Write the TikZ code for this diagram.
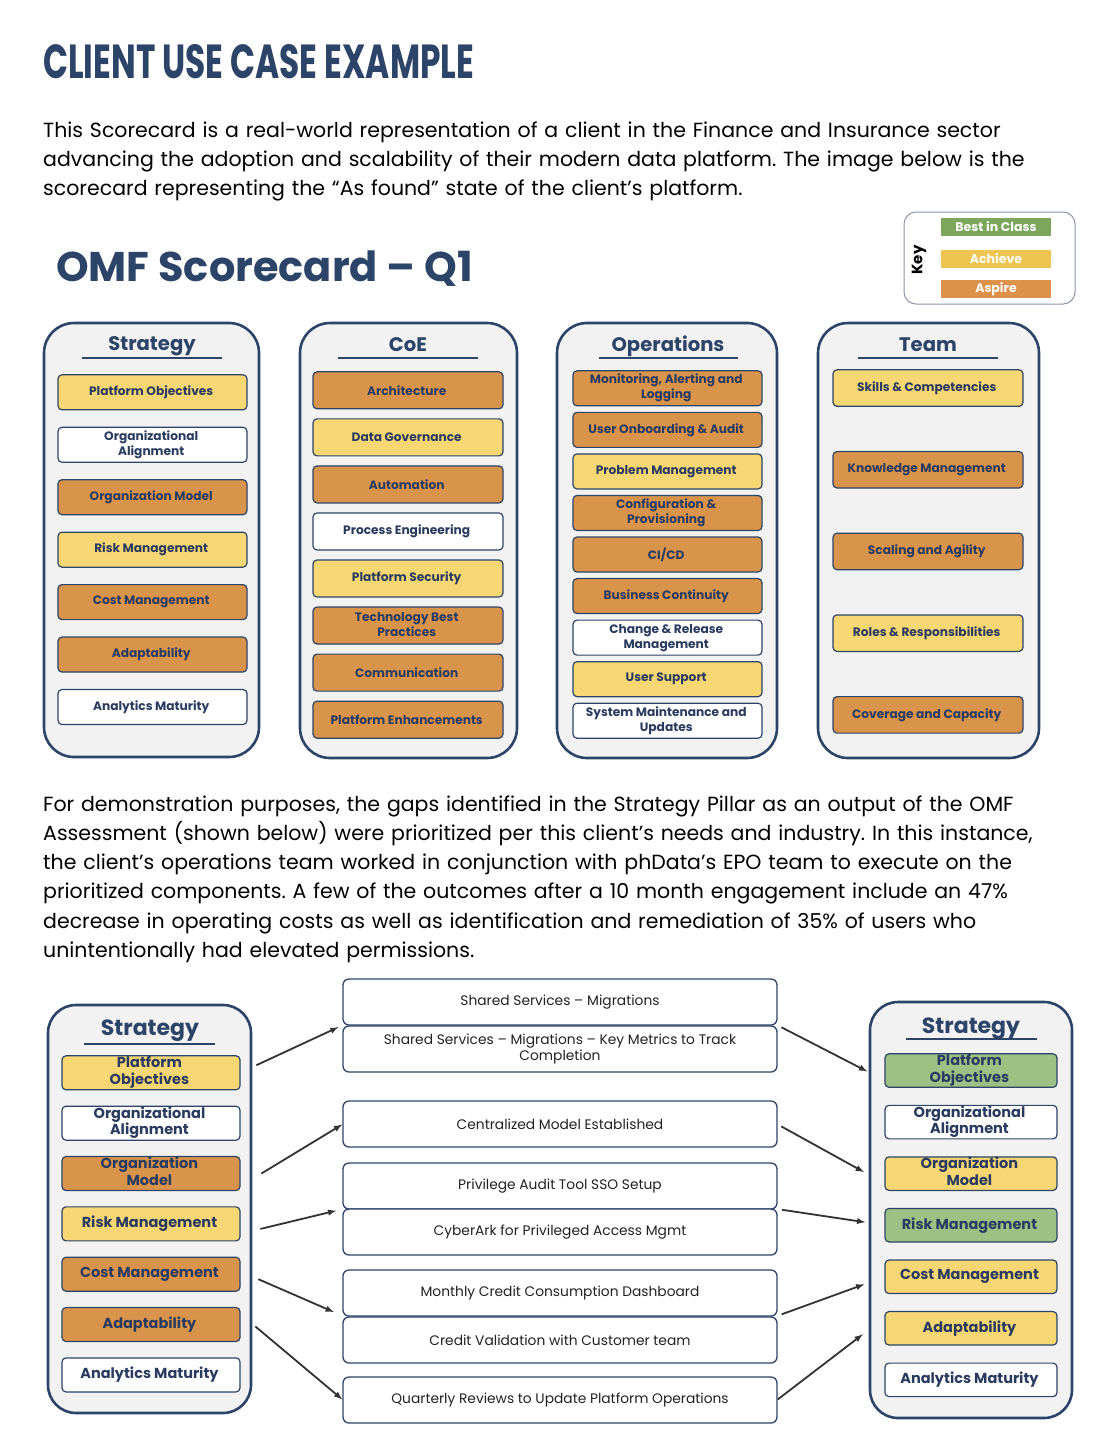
\documentclass[tikz,border=0pt]{standalone}
\usepackage{fontspec}
\setmainfont{Poppins}
\usepackage{graphicx}
\usepackage{tikz}
\usetikzlibrary{matrix,positioning,arrows}
\definecolor{navy}{HTML}{2C4468}
\definecolor{boxtext}{HTML}{2A3B60}
\definecolor{pillgray}{HTML}{F2F2F2}
\definecolor{ylwfill}{HTML}{F7D774}
\definecolor{orgfill}{HTML}{D9944C}
\definecolor{grnfill}{HTML}{9CC185}
\definecolor{keygrn}{HTML}{7BA65C}
\definecolor{keyylw}{HTML}{EDC550}
\definecolor{keyorg}{HTML}{DC924A}
\definecolor{keyline}{HTML}{8C95AB}
\definecolor{arrowgray}{HTML}{333333}
\definecolor{textdark}{HTML}{222222}
\newcommand{\twol}[2]{\begin{tabular}{@{}c@{}}#1\\#2\end{tabular}}
\frenchspacing
\tikzset{
pillar/.style={draw=navy, line width=2.6pt, fill=pillgray, rounded corners=30pt},
cell/.style={draw=navy, line width=1.2pt, rounded corners=4pt, fill=white,
  text=boxtext, align=center, inner sep=0pt, outer sep=0pt},
ylw/.style={fill=ylwfill},
org/.style={fill=orgfill},
grn/.style={fill=grnfill},
scoremat/.style={
  matrix of nodes,
  inner sep=0pt,
  anchor=north,
  nodes={cell, font=\fontsize{12.2}{15}\selectfont\bfseries}
  },
bigmat/.style={scoremat, nodes={font=\fontsize{14.5}{16.5}\selectfont\bfseries}},
pilltitle/.style={anchor=base, inner sep=0pt, text=navy, font=\fontsize{19.6}{24}\selectfont\bfseries},
bigtitle/.style={pilltitle, font=\fontsize{22}{26}\selectfont\bfseries},
outcome/.style={draw=navy, line width=1.3pt, rounded corners=6pt, fill=white,
  minimum width=434pt, minimum height=46pt, anchor=north, align=center,
  inner sep=0pt, outer sep=0pt, text=textdark, font=\fontsize{13.8}{16}\selectfont},
keybar/.style={minimum width=110pt, minimum height=18pt, inner sep=0pt,
  text=white, font=\fontsize{12.5}{13}\selectfont\bfseries},
para/.style={anchor=base west, inner sep=0pt, text width=1060pt, align=left,
  text=black, font=\fontsize{20.5}{29.3}\selectfont},
flow/.style={->, draw=arrowgray, line width=1.8pt}
}

\begin{document}
\begin{tikzpicture}[x=1pt, y=-1pt, >=latex]
\fill[white] (0,0) rectangle (1114,1444);
\useasboundingbox (0,0) rectangle (1114,1444);

% headings and text
\node[anchor=south west, inner sep=0pt, text=navy] (ctitle) at (43,79)
  {\resizebox{431pt}{34pt}{\bfseries CLIENT USE CASE EXAMPLE}};
\node[para] (intro) at (43,137)
  {This Scorecard is a real-world representation of a client in the Finance and Insurance sector\\
   advancing the adoption and scalability of their modern data platform. The image below is the\\
   scorecard representing the “As found” state of the client’s platform.};
\node[anchor=base west, inner sep=0pt, text=navy, font=\fontsize{41.5}{44}\selectfont\bfseries]
  (omf) at (56,281) {OMF Scorecard – Q1};

% key
\draw[keyline, line width=1pt, rounded corners=12pt] (904,212) rectangle (1075,304);
\node[rotate=90, inner sep=0pt, font=\fontsize{15}{16}\selectfont\bfseries] (keylbl) at (919,260) {Key};
\node[keybar, fill=keygrn] (kbest) at (996,227) {Best in Class};
\node[keybar, fill=keyylw] (kach) at (996,258.5) {Achieve};
\node[keybar, fill=keyorg] (kasp) at (996,289) {Aspire};

% four pillars
\draw[pillar] (44,323) rectangle (259,757);
\draw[pillar] (300,323) rectangle (517,758);
\draw[pillar] (557,323) rectangle (777,758);
\draw[pillar] (818,323) rectangle (1039,758);

\node[pilltitle] (tS) at (152,350) {Strategy};
\node[pilltitle] (tC) at (408,351) {CoE};
\node[pilltitle] (tO) at (668,351) {Operations};
\node[pilltitle] (tT) at (928,351) {Team};
\draw[navy, line width=1.5pt] (82,358) -- (222,358);
\draw[navy, line width=1.5pt] (338,358) -- (478,358);
\draw[navy, line width=1.5pt] (599,358) -- (738,358);
\draw[navy, line width=1.5pt] (858,358) -- (998,358);

\matrix[scoremat, row sep=16.25pt, nodes={minimum width=189pt, minimum height=35pt}]
at (152.5,374)
(strat)
{
|[ylw]| Platform Objectives \\
\twol{Organizational}{Alignment} \\
|[org]| Organization Model \\
|[ylw]| Risk Management \\
|[org]| Cost Management \\
|[org]| Adaptability \\
Analytics Maturity \\
};

\matrix[scoremat, row sep=8.85pt, nodes={minimum width=190pt, minimum height=37pt}]
at (408,371)
(coe)
{
|[org]| Architecture \\
|[ylw]| Data Governance \\
|[org]| Automation \\
Process Engineering \\
|[ylw]| Platform Security \\
|[org]| \twol{Technology Best}{Practices} \\
|[org]| Communication \\
|[org]| Platform Enhancements \\
};

\matrix[scoremat, row sep=5.35pt, nodes={minimum width=189pt, minimum height=35pt}]
at (667.5,370)
(ops)
{
|[org]| \twol{Monitoring, Alerting and}{Logging} \\
|[org]| User Onboarding \& Audit \\
|[ylw]| Problem Management \\
|[org]| \twol{Configuration \&}{Provisioning} \\
|[org]| CI/CD \\
|[org]| Business Continuity \\
\twol{Change \& Release}{Management} \\
|[ylw]| User Support \\
\twol{System Maintenance and}{Updates} \\
};

\matrix[scoremat, row sep=44pt, nodes={minimum width=190pt, minimum height=36.5pt}]
at (928,369)
(team)
{
|[ylw]| Skills \& Competencies \\
|[org]| Knowledge Management \\
|[org]| Scaling and Agility \\
|[ylw]| Roles \& Responsibilities \\
|[org]| Coverage and Capacity \\
};

% explanation
\node[para] (expl) at (43,811)
  {For demonstration purposes, the gaps identified in the Strategy Pillar as an output of the OMF\\
   Assessment (shown below) were prioritized per this client’s needs and industry. In this instance,\\
   the client’s operations team worked in conjunction with phData’s EPO team to execute on the\\
   prioritized components. A few of the outcomes after a 10 month engagement include an 47\%\\
   decrease in operating costs as well as identification and remediation of 35\% of users who\\
   unintentionally had elevated permissions.};

% before / after
\draw[pillar, rounded corners=28pt] (48,1005) rectangle (251,1413);
\draw[pillar, rounded corners=28pt] (870,1002) rectangle (1072,1418);
\node[bigtitle] (tLS) at (150,1035) {Strategy};
\node[bigtitle] (tRS) at (971,1033) {Strategy};
\draw[navy, line width=2pt] (84,1044) -- (215,1044);
\draw[navy, line width=2pt] (906,1039) -- (1037,1039);

\matrix[bigmat, row sep=15.15pt, nodes={minimum width=178pt, minimum height=34pt}]
at (151,1055)
(before)
{
|[ylw]| \twol{Platform}{Objectives} \\
\twol{Organizational}{Alignment} \\
|[org]| \twol{Organization}{Model} \\
|[ylw]| Risk Management \\
|[org]| Cost Management \\
|[org]| Adaptability \\
Analytics Maturity \\
};

\matrix[bigmat, row sep=16.85pt, nodes={minimum width=172pt, minimum height=33.5pt}]
at (971,1053)
(after)
{
|[grn]| \twol{Platform}{Objectives} \\
\twol{Organizational}{Alignment} \\
|[ylw]| \twol{Organization}{Model} \\
|[grn]| Risk Management \\
|[ylw]| Cost Management \\
|[ylw]| Adaptability \\
Analytics Maturity \\
};

\node[outcome] (m1) at (560,979) {Shared Services – Migrations};
\node[outcome] (m2) at (560,1026) {Shared Services – Migrations – Key Metrics to Track\\Completion};
\node[outcome] (m3) at (560,1101) {Centralized Model Established};
\node[outcome] (m4) at (560,1163) {Privilege Audit Tool SSO Setup};
\node[outcome] (m5) at (560,1209) {CyberArk for Privileged Access Mgmt};
\node[outcome] (m6) at (560,1270) {Monthly Credit Consumption Dashboard};
\node[outcome] (m7) at (560,1317) {Credit Validation with Customer team};
\node[outcome] (m8) at (560,1377) {Quarterly Reviews to Update Platform Operations};

\begin{scope}[flow]
\draw[shorten <=18pt, shorten >=5pt] (before-1-1.east) -- (m1.south west);
\draw[shorten <=25pt, shorten >=1pt] ([yshift=-13pt]before-3-1.east) -- (m3.west);
\draw[shorten <=21pt, shorten >=7pt] ([yshift=-10pt]before-4-1.east) -- (m4.south west);
\draw[shorten <=20pt, shorten >=10pt] ([yshift=3pt]before-5-1.east) -- (m6.south west);
\draw[shorten <=20pt, shorten >=1pt] ([yshift=11pt]before-6-1.east) -- (m8.west);
\draw[shorten <=5pt, shorten >=20pt] (m1.south east) -- ([yshift=-10pt]after-1-1.west);
\draw[shorten <=5pt, shorten >=24pt] (m3.east) -- ([yshift=-10pt]after-3-1.west);
\draw[shorten <=5pt, shorten >=20pt] (m4.south east) -- (after-4-1.west);
\draw[shorten <=5pt, shorten >=22pt] (m6.south east) -- (after-5-1.west);
\draw[shorten <=1pt, shorten >=28pt] (m8.east) -- ([yshift=11pt]after-6-1.west);
\end{scope}
\end{tikzpicture}
\end{document}
